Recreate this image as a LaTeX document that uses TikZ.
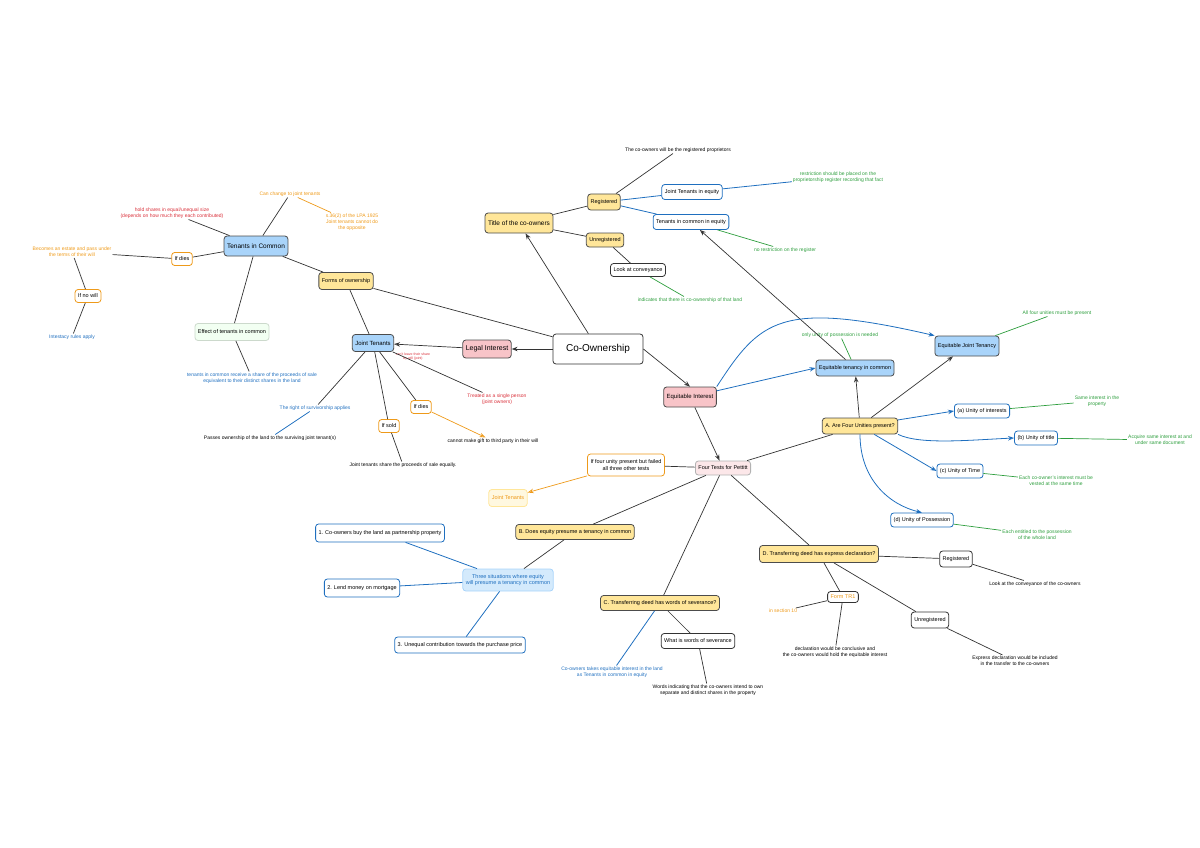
\documentclass[tikz,border=0pt]{standalone}
\usepackage{fontspec}
\setmainfont{Liberation Sans}
\usetikzlibrary{arrows.meta}
\definecolor{yel}{HTML}{FFE699}
\definecolor{blu}{HTML}{A9D4FA}
\definecolor{pnk}{HTML}{F8C4C8}
\definecolor{lbl}{HTML}{1F6FBF}
\definecolor{grn}{HTML}{2E9E3E}
\definecolor{org}{HTML}{EE9A1A}
\definecolor{rd}{HTML}{D9303A}
\tikzset{
 base/.style={rounded corners=3pt,draw,line width=0.8pt,font=\fontsize{5.5}{6.5}\selectfont,inner sep=3pt,align=center},
 ybox/.style={base,fill=yel,draw=black!70},
 bbox/.style={base,fill=blu,draw=black!70},
 pbox/.style={base,fill=pnk,draw=black!70},
 wbox/.style={base,fill=white,draw=black!80},
 wbl/.style={base,fill=white,draw=lbl},
 obox/.style={base,fill=white,draw=org},
 txt/.style={font=\fontsize{5}{6}\selectfont,align=center,inner sep=1pt},
 ln/.style={draw=black!80,line width=0.7pt},
 arr/.style={ln,-{Stealth[open,length=6pt]}},
 bl/.style={draw=lbl,line width=0.8pt},
 barr/.style={bl,-{Stealth[open,length=6pt]}},
 gl/.style={draw=grn,line width=0.7pt},
 ol/.style={draw=org,line width=0.7pt},
}
\begin{document}
\begin{tikzpicture}[x=1pt,y=-1pt]
\useasboundingbox (0,0) rectangle (1200,848);
% central
\node[wbox,font=\fontsize{10}{12}\selectfont,minimum width=90,minimum height=30] (co) at (598,349) {Co-Ownership};
\node[pbox,font=\fontsize{7}{8}\selectfont,minimum height=18] (legal) at (487,349) {Legal Interest};
\node[pbox,font=\fontsize{6}{7}\selectfont,minimum height=20] (equit) at (690,397) {Equitable Interest};
% title branch
\node[ybox,font=\fontsize{6.5}{7.5}\selectfont,minimum height=20] (title) at (519,223) {Title of the co-owners};
\node[ybox,minimum height=16] (reg) at (604,202) {Registered};
\node[ybox,minimum height=14] (unreg) at (605,240) {Unregistered};
\node[wbl,minimum height=15] (jte) at (692,192) {Joint Tenants in equity};
\node[wbl,minimum height=15] (tice) at (691,222) {Tenants in common in equity};
\node[wbox,minimum height=13] (deeds) at (638,270) {Look at conveyance};
\node[txt] (treg) at (678,150) {The co-owners will be the registered proprietors};
\node[txt,text=grn] (trestr) at (838,177) {restriction should be placed on the\\proprietorship register recording that fact};
\node[txt,text=grn] (tnor) at (785,250) {no restriction on the register};
\node[txt,text=grn] (tunr) at (690,300) {indicates that there is co-ownership of that land};
% forms
\node[ybox,minimum height=17] (forms) at (346,281) {Forms of ownership};
\node[bbox,font=\fontsize{6.5}{7.5}\selectfont,minimum height=20] (tic) at (256,246) {Tenants in Common};
\node[bbox,font=\fontsize{6}{7}\selectfont,minimum height=17] (jt) at (373,343) {Joint Tenants};
\node[txt,text=rd] (tc1) at (172,213) {hold shares in equal/unequal size\\(depends on how much they each contributed)};
\node[txt,text=org] (tc2) at (290,194) {Can change to joint tenants};
\node[txt,text=org] (tc3) at (352,222) {s.36(2) of the LPA 1925\\Joint tenants cannot do\\the opposite};
\node[obox,minimum height=13] (ifd1) at (182,259) {If dies};
\node[txt,text=org] (tc4) at (72,252) {Becomes an estate and pass under\\the terms of their will};
\node[obox,minimum height=13] (nowill) at (88,296) {If no will};
\node[txt,text=lbl] (intes) at (72,337) {Intestacy rules apply};
\node[base,fill=green!5,draw=green!25!black!20,minimum height=17] (effect) at (232,332) {Effect of tenants in common};
\node[txt,text=lbl] (tc5) at (252,378) {tenants in common receive a share of the proceeds of sale\\equivalent to their distinct shares in the land};
\node[txt,text=rd,font=\fontsize{3.5}{4}\selectfont] (jt1) at (413,357) {can't leave their share\\by will (joint)};
\node[txt,text=rd] (jt2) at (497,399) {Treated as a single person\\(joint owners)};
\node[obox,minimum height=13] (ifd2) at (421,407) {If dies};
\node[obox,minimum height=13] (ifs) at (389,426) {If sold};
\node[txt,text=lbl] (jt3) at (315,408) {The right of survivorship applies};
\node[txt] (jt4) at (270,438) {Passes ownership of the land to the surviving joint tenant(s)};
\node[txt] (jt5) at (403,465) {Joint tenants share the proceeds of sale equally.};
\node[txt] (jt6) at (493,441) {cannot make gift to third party in their will};
% four tests
\node[base,fill=pnk!40,draw=black!30,minimum height=14] (four) at (723,468) {Four Tests for Pettitt};
\node[obox,minimum height=22] (iffour) at (626,465) {If four unity present but failed\\all three other tests};
\node[base,fill=yel!30,draw=yel,text=org,minimum height=17] (jteq) at (508,498) {Joint Tenants};
\node[ybox,minimum height=16] (ta) at (860,426) {A. Are Four Unities present?};
\node[bbox,minimum height=16] (eqtic) at (855,368) {Equitable tenancy in common};
\node[bbox,minimum height=20] (eqjt) at (967,346) {Equitable Joint Tenancy};
\node[txt,text=grn] (tonly) at (840,335) {only unity of possession is needed};
\node[txt,text=grn] (tall) at (1057,313) {All four unities must be present};
\node[wbl,minimum height=14] (ua) at (982,411) {(a) Unity of interests};
\node[wbl,minimum height=14] (ub) at (1036,438) {(b) Unity of title};
\node[wbl,minimum height=14] (uc) at (960,471) {(c) Unity of Time};
\node[wbl,minimum height=14] (ud) at (922,520) {(d) Unity of Possession};
\node[txt,text=grn] (ga) at (1097,401) {Same interest in the\\property};
\node[txt,text=grn] (gb) at (1160,440) {Acquire same interest at and\\under same document};
\node[txt,text=grn] (gc) at (1056,481) {Each co-owner's interest must be\\vested at the same time};
\node[txt,text=grn] (gd) at (1037,535) {Each entitled to the possession\\of the whole land};
\node[ybox,minimum height=15] (tb) at (575,532) {B. Does equity presume a tenancy in common};
\node[base,fill=blu!50,draw=blu,text=lbl,minimum height=22] (sit) at (508,580) {Three situations where equity\\will presume a tenancy in common};
\node[wbl,minimum height=18] (s1) at (380,533) {1. Co-owners buy the land as partnership property};
\node[wbl,minimum height=18] (s2) at (362,588) {2. Lend money on mortgage};
\node[wbl,minimum height=16] (s3) at (460,645) {3. Unequal contribution towards the purchase price};
\node[ybox,minimum height=15] (tc) at (660,603) {C. Transferring deed has words of severance?};
\node[wbox,minimum height=15] (words) at (698,641) {What is words of severance};
\node[txt,text=lbl] (tct) at (612,672) {Co-owners takes equitable interest in the land\\as Tenants in common in equity};
\node[txt] (tct2) at (708,690) {Words indicating that the co-owners intend to own\\separate and distinct shares in the property};
\node[ybox,minimum height=17] (td) at (819,554) {D. Transferring deed has express declaration?};
\node[wbox,text=org,minimum height=11] (tr1) at (843,597) {Form TR1};
\node[txt,text=org] (s10) at (783,611) {in section 10};
\node[txt] (decl) at (835,652) {declaration would be conclusive and\\the co-owners would hold the equitable interest};
\node[wbox,minimum height=16] (regd) at (956,559) {Registered};
\node[txt] (tregd) at (1035,584) {Look at the conveyance of the co-owners};
\node[wbox,minimum height=16] (unregd) at (930,620) {Unregistered};
\node[txt] (tunregd) at (1015,661) {Express declaration would be included\\in the transfer to the co-owners};
% edges
\draw[arr] (co) -- (legal);
\draw[arr] (co.east) -- (equit.north);
\draw[arr] (co) -- (title);
\draw[ln] (co) -- (forms);
\draw[arr] (legal) -- (jt);
\draw[ln] (title) -- (reg); \draw[ln] (title) -- (unreg);
\draw[ln] (reg) -- (treg);
\draw[bl] (reg) -- (jte); \draw[bl] (reg) -- (tice);
\draw[bl] (jte) -- (trestr);
\draw[gl] (tice) -- (tnor);
\draw[ln] (unreg) -- (deeds); \draw[gl] (deeds) -- (tunr);
\draw[arr] (eqtic) -- (tice);
\draw[barr] (equit) -- (eqtic.west);
\draw[barr] (equit.north east) .. controls (760,320) and (780,300) .. (eqjt.north west);
\draw[arr] (equit) -- (four);
\draw[ln] (four) -- (ta);
\draw[arr] (ta) -- (eqtic);
\draw[arr] (ta) -- (eqjt);
\draw[barr] (ta) -- (ua.west);
\draw[barr] (ta.south east) .. controls (920,445) and (970,440) .. (ub.west);
\draw[barr] (ta) -- (uc.west);
\draw[barr] (ta.south) .. controls (860,480) and (890,505) .. (ud.north);
\draw[gl] (ua) -- (ga); \draw[gl] (ub) -- (gb); \draw[gl] (uc) -- (gc); \draw[gl] (ud) -- (gd);
\draw[gl] (eqtic) -- (tonly); \draw[gl] (eqjt) -- (tall);
\draw[ln] (four) -- (iffour);
\draw[ol,-{Stealth[open,length=6pt]}] (iffour) -- (jteq);
\draw[ln] (four) -- (tb); \draw[ln] (four) -- (tc); \draw[ln] (four) -- (td);
\draw[ln] (tb) -- (sit);
\draw[bl] (sit) -- (s1); \draw[bl] (sit) -- (s2); \draw[bl] (sit) -- (s3);
\draw[bl] (tc) -- (tct); \draw[ln] (tc) -- (words); \draw[ln] (words) -- (tct2);
\draw[ln] (td) -- (tr1); \draw[ln] (tr1) -- (s10); \draw[ln] (tr1) -- (decl);
\draw[ln] (td) -- (regd); \draw[ln] (regd) -- (tregd);
\draw[ln] (td) -- (unregd); \draw[ln] (unregd) -- (tunregd);
\draw[ln] (forms) -- (tic); \draw[ln] (forms) -- (jt);
\draw[ln] (tic) -- (tc1); \draw[ln] (tic) -- (tc2); \draw[ol] (tc2) -- (tc3);
\draw[ln] (tic) -- (ifd1); \draw[ln] (ifd1) -- (tc4); \draw[ln] (tc4) -- (nowill);
\draw[ln] (nowill) -- (intes);
\draw[ln] (tic) -- (effect); \draw[ln] (effect) -- (tc5);
\draw[ln] (jt) -- (jt2); \draw[ln] (jt) -- (ifd2); \draw[ln] (jt) -- (ifs);
\draw[ln] (jt) -- (jt3); \draw[bl] (jt3) -- (jt4);
\draw[ln] (ifs) -- (jt5);
\draw[ol,-{Stealth[open,length=6pt]}] (ifd2) -- (jt6);
\end{tikzpicture}
\end{document}
